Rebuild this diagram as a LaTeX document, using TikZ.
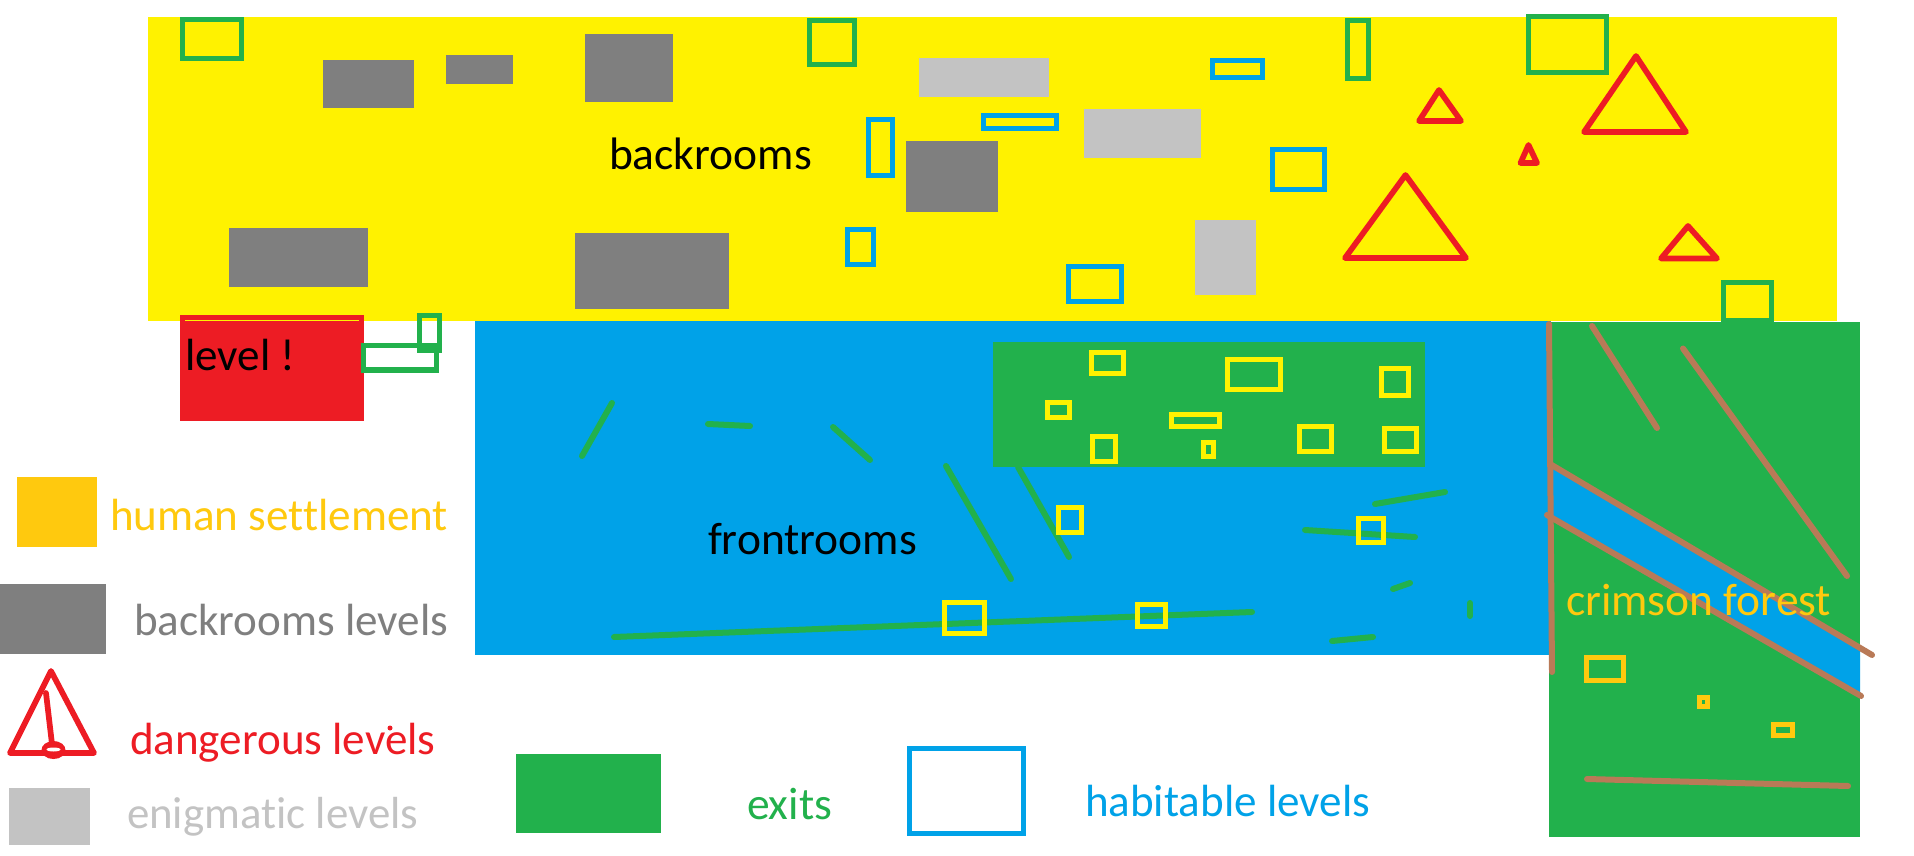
\documentclass[tikz,border=0pt]{standalone}
\usepackage{fontspec}
\setmainfont{Carlito}[Ligatures=NoCommon]
\definecolor{pyellow}{HTML}{FFF200}
\definecolor{pblue}{HTML}{00A2E8}
\definecolor{pgreen}{HTML}{22B14C}
\definecolor{pred}{HTML}{ED1C24}
\definecolor{pgray}{HTML}{7F7F7F}
\definecolor{plight}{HTML}{C3C3C3}
\definecolor{porange}{HTML}{FFC90E}
\definecolor{pbrown}{HTML}{B97A57}
\tikzset{
  frame/.style={draw=#1,line width=5.4pt,miter limit=10},
  danger/.style={draw=pred,line width=5.7pt,line join=round,line cap=round},
  stick/.style={draw=pgreen,line width=6pt,line cap=round},
  bank/.style={draw=pbrown,line width=6pt,line cap=round},
  lab/.style={anchor=base west,inner sep=0pt,outer sep=0pt,font=\fontsize{45.5}{46}\selectfont,text=#1},
  legendlab/.style={lab=#1,font=\fontsize{45.1}{46}\selectfont},
}
\newcommand{\fillbox}[5]{\fill[#1] (#2,#3) rectangle (#4,#5);}
\newcommand{\outbox}[5]{\draw[frame=#1] (#2+2.7,#3+2.7) rectangle (#4-2.7,#5-2.7);}
\begin{document}
\begin{tikzpicture}[x=1pt,y=-1pt]
\useasboundingbox (0,0) rectangle (1914,856);
\fill[white] (0,0) rectangle (1914,856);
% regions
\fillbox{pyellow}{148}{17}{1837}{321}
\fillbox{pblue}{475}{321}{1551}{654.5}
\fillbox{pgreen}{1549}{322}{1860}{836.5}
\fillbox{pgreen}{993}{342}{1425}{466.5}
\fillbox{pred}{180}{315}{364}{421}
\draw[pyellow,line width=1pt] (185,320.5) -- (359,320.5);
% river
\fill[pblue] (1552,465) -- (1860,647) -- (1860,695) -- (1552,517) -- cycle;
% backrooms grey levels
\fillbox{pgray}{323}{60}{414}{108}
\fillbox{pgray}{446}{55}{513}{84}
\fillbox{pgray}{585}{34}{673}{102}
\fillbox{pgray}{229}{228}{368}{287}
\fillbox{pgray}{575}{233}{729}{309}
\fillbox{pgray}{906}{141}{998}{212}
% enigmatic
\fillbox{plight}{919}{58}{1049}{97}
\fillbox{plight}{1084}{109}{1201}{158}
\fillbox{plight}{1195}{220}{1256}{295}
% green frames
\outbox{pgreen}{180}{17}{244}{61}
\outbox{pgreen}{807}{18}{857}{67}
\outbox{pgreen}{1345}{18}{1371}{81}
\outbox{pgreen}{1526}{14}{1609}{75}
\outbox{pgreen}{1721}{280}{1774}{323}
\outbox{pgreen}{361}{343}{439}{372.5}
\outbox{pgreen}{417}{313}{442}{352.5}
% blue frames
\outbox{pblue}{866}{117}{895}{178}
\outbox{pblue}{981}{113}{1059}{131}
\outbox{pblue}{845}{227}{876}{267}
\outbox{pblue}{1066}{264}{1124}{304}
\outbox{pblue}{1210}{58}{1265}{80}
\outbox{pblue}{1270}{147}{1327}{192}
% triangles
\draw[danger] (1405.5,175) -- (1345,258) -- (1466,258) -- cycle;
\draw[danger] (1439,90) -- (1419,121) -- (1461,121) -- cycle;
\draw[danger] (1528.5,145) -- (1520.5,163) -- (1537,163) -- cycle;
\draw[danger] (1636,56) -- (1584,132) -- (1686,132) -- cycle;
\draw[danger] (1688,226) -- (1661,258.5) -- (1717,258.5) -- cycle;
% frontrooms sticks
\draw[stick] (612,403) -- (582,456);
\draw[stick] (708,424) -- (750,426);
\draw[stick] (833,427) -- (870,460);
\draw[stick] (946,466) -- (1011,579);
\draw[stick] (1018,467) -- (1069,557);
\draw[stick] (1375,504) -- (1445,492);
\draw[stick] (1305,530) -- (1415,537);
\draw[stick] (1393,589) -- (1410,583);
\draw[stick] (1470,603) -- (1470,616);
\draw[stick] (1332,641) -- (1373,637);
\draw[stick] (614,637) -- (1252,612);
% yellow frames
\outbox{pyellow}{1089}{350}{1126}{376}
\outbox{pyellow}{1225}{357}{1283}{392}
\outbox{pyellow}{1379}{366}{1411}{398}
\outbox{pyellow}{1045}{400}{1072}{420}
\outbox{pyellow}{1169}{412}{1222}{429}
\outbox{pyellow}{1090}{434}{1118}{464}
\outbox{pyellow}{1201}{440}{1216}{459}
\outbox{pyellow}{1297}{424}{1334}{454}
\outbox{pyellow}{1382}{426}{1419}{454}
\outbox{pyellow}{1056}{505}{1084}{535}
\outbox{pyellow}{1356}{516}{1386}{545}
\outbox{pyellow}{1135}{602}{1168}{629}
\outbox{pyellow}{942}{600}{987}{636}
% forest
\draw[bank] (1549,324) -- (1552,672);
\draw[bank] (1592,326) -- (1657,428);
\draw[bank] (1683,348.5) -- (1847,576);
\draw[bank] (1550,464) -- (1872,655);
\draw[bank] (1547,515) -- (1861,696);
\draw[bank] (1587,779) -- (1848,786);
\outbox{porange}{1584}{655}{1626}{683}
\outbox{porange}{1697}{695}{1710}{709}
\outbox{porange}{1771}{722}{1795}{738}
% legend
\fillbox{porange}{17}{477}{97}{547}
\fillbox{pgray}{0}{584}{106}{653.5}
\draw[danger] (51,671) -- (10,753) -- (94,753) -- cycle;
\draw[danger] (46,693) -- (52,744);
\fill[pred] (53.5,750) ellipse [x radius=12,y radius=9];
\fill[white] (53.5,749.5) ellipse [x radius=7,y radius=2];
\fill[pred] (390,728) circle [radius=2.5];
\fillbox{plight}{9}{788}{90}{845}
\fillbox{pgreen}{516}{754}{661}{833}
\outbox{pblue}{907}{746}{1026}{836}
% labels
\node[lab=black] (backrooms) at (609,169) {backrooms};
\node[lab=black] (frontrooms) at (708,554) {frontrooms};
\node[legendlab=black] (levelx) at (185,370) {level !};
\node[lab=porange] (crimson) at (1566,615) {crimson forest};
\node[legendlab=porange] (human) at (110,530) {human settlement};
\node[legendlab=pgray] (blevels) at (134,635) {backrooms levels};
\node[legendlab=pred] (dlevels) at (130,754) {dangerous levels};
\node[legendlab=plight,font=\fontsize{44.9}{46}\selectfont] (elevels) at (127,828) {enigmatic levels};
\node[lab=pgreen] (exits) at (747,819) {exits};
\node[legendlab=pblue] (hlevels) at (1085,816) {habitable levels};
\end{tikzpicture}
\end{document}
